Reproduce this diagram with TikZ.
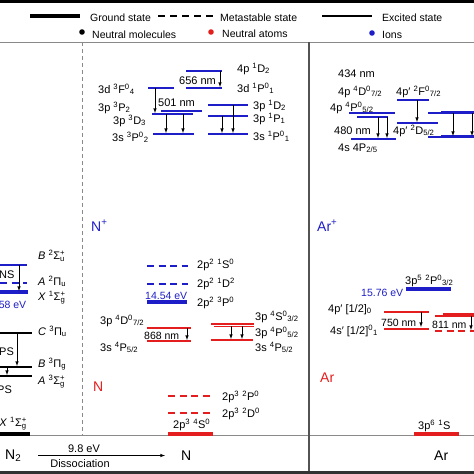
\documentclass[tikz,border=0pt]{standalone}
\usepackage{fontspec}
\setmainfont{Liberation Sans}
\usepackage{amsmath}
\usepackage{tikz}
\usetikzlibrary{arrows}
\definecolor{IonBlue}{HTML}{1E1EC8}
\definecolor{AtomRed}{HTML}{E41E1E}
\definecolor{GrisCadre}{HTML}{8A8A8A}
\newcommand{\spx}[1]{\textsuperscript{#1}}
\newcommand{\sbx}[1]{\textsubscript{#1}}
\newcommand{\trm}[2]{$^{\text{#1}}_{\text{#2}}$}
\tikzset{
	ground/.style={line width=3.6pt},
	excited/.style={line width=1.8pt},
	meta/.style={line width=1.8pt, dash pattern=on 7pt off 4.5pt},
	trans/.style={->, >=latex, line width=0.6pt},
	lbl/.style={anchor=west, inner sep=0pt, text height=8pt, text depth=0pt},
	nm/.style={lbl, font=\fontsize{10.5}{12}\selectfont},
	species/.style={lbl, font=\fontsize{14}{16}\selectfont},
	cadre/.style={GrisCadre, line width=0.9pt}
}

\begin{document}
\begin{tikzpicture}[x=1pt, y=-1pt, font=\fontsize{11}{13}\selectfont]
	\useasboundingbox (0,0) rectangle (474,474);
	\clip (0,0) rectangle (474,474);
	%
	% cadre
	\draw[line width=3.5pt] (0,1.5) -- (474,1.5);
	\draw[cadre] (0,42) -- (474,42);
	\draw[cadre] (0,435) -- (474,435);
	\draw[cadre, dash pattern=on 4pt off 3pt] (82,42) -- (82,435);
	\draw[GrisCadre!60!black, line width=1.3pt] (309,42) -- (309,474);
	\draw[black!80, line width=3pt] (0,472.5) -- (474,472.5);
	%
	% legende
	\begin{scope}[font=\fontsize{10.5}{12}\selectfont]
		\draw[ground] (30,16) -- (80,16);
		\node[lbl] at (90,17) (legGround) {Ground state};
		\draw[line width=1.5pt, dash pattern=on 7pt off 5pt] (158,16) -- (213,16);
		\node[lbl] at (220,17) (legMeta) {Metastable state};
		\draw[line width=1.1pt] (322,16) -- (372,16);
		\node[lbl] at (382,17) (legExc) {Excited state};
		\fill (82,32) circle (2.8pt);
		\node[lbl] at (92,34) (legMol) {Neutral molecules};
		\fill[AtomRed] (211,32) circle (2.8pt);
		\node[lbl] at (222,33) (legAtom) {Neutral atoms};
		\fill[IonBlue] (372,33) circle (2.8pt);
		\node[lbl] at (382,34) (legIon) {Ions};
	\end{scope}
	%
	% N2+
	\draw[excited, IonBlue] (0,265) -- (27,265);
	\draw[meta, IonBlue] (0,283) -- (27,283);
	\draw[ground, IonBlue] (0,292) -- (28,292);
	\draw[trans] (19,265) -- (19,291);
	\node[lbl] at (-1,274) (fns) {NS};
	\node[nm, IonBlue] at (-16,304) (ipNdeux) {15.58 eV};
	\node[lbl] at (38,255) (nBsu) {\textit{B} \spx{2}Σ\trm{+}{u}};
	\node[lbl] at (38,281) (nApu) {\textit{A} \spx{2}Π\sbx{u}};
	\node[lbl] at (38,296) (nXsg) {\textit{X} \spx{1}Σ\trm{+}{g}};
	% N2
	\draw[excited] (0,333) -- (32,333);
	\draw[excited] (0,367) -- (32,367);
	\draw[excited] (0,376) -- (32,376);
	\draw[trans] (17,333) -- (17,366);
	\draw[trans] (7,367) -- (7,375);
	\node[lbl] at (-1,351) (sps) {PS};
	\node[lbl] at (-3,389) (fps) {PS};
	\node[lbl] at (38,331) (nCpu) {\textit{C} \spx{3}Π\sbx{u}};
	\node[lbl] at (38,363) (nBpg) {\textit{B} \spx{3}Π\sbx{g}};
	\node[lbl] at (38,380) (nAsg) {\textit{A} \spx{3}Σ\trm{+}{g}};
	\draw[ground] (0,434) -- (30,434);
	\node[lbl, anchor=east] at (27,422) (nXzero) {\textit{X} \spx{1}Σ\trm{+}{g}};
	%
	% N+
	\node[species, IonBlue] at (91,227) (nIon) {N\spx{+}};
	\draw[excited, IonBlue] (186,71) -- (222,71);
	\draw[excited, IonBlue] (186,88) -- (222,88);
	\draw[excited, IonBlue] (148,88) -- (174,88);
	\draw[excited, IonBlue] (161,111) -- (202,111);
	\draw[excited, IonBlue] (152,114) -- (193,114);
	\draw[excited, IonBlue] (153,134) -- (194,134);
	\draw[excited, IonBlue] (208,105) -- (248,105);
	\draw[excited, IonBlue] (208,116) -- (248,116);
	\draw[excited, IonBlue] (208,134) -- (248,134);
	\draw[trans] (220,71) -- (220,87);
	\draw[trans] (155,88) -- (155,113);
	\draw[trans] (166,114) -- (166,133);
	\draw[trans] (183,114) -- (183,133);
	\draw[trans] (222,116) -- (222,133);
	\draw[trans] (233,105) -- (233,133);
	\node[lbl] at (237,68) (nfpD) {4p \spx{1}D\sbx{2}};
	\node[lbl] at (237,88) (ntdP) {3d \spx{1}P\spx{0}\sbx{1}};
	\node[lbl] at (179,80) (lsix) {656 nm};
	\node[lbl] at (98,89) (ntdF) {3d \spx{3}F\spx{0}\sbx{4}};
	\node[lbl] at (158,102) (lcinq) {501 nm};
	\node[lbl] at (98,107) (ntpP) {3p \spx{3}P\sbx{2}};
	\node[lbl] at (113,120) (ntpD) {3p \spx{3}D\sbx{3}};
	\node[lbl] at (112,137) (ntsP) {3s \spx{3}P\spx{0}\sbx{2}};
	\node[lbl] at (253,105) (nupD) {3p \spx{1}D\sbx{2}};
	\node[lbl] at (253,118) (nupP) {3p \spx{1}P\sbx{1}};
	\node[lbl] at (253,136) (nusP) {3s \spx{1}P\spx{0}\sbx{1}};
	% N+ bas
	\draw[meta, IonBlue] (147,266) -- (188,266);
	\draw[meta, IonBlue] (147,284) -- (188,284);
	\draw[ground, IonBlue] (147,302) -- (187,302);
	\node[lbl] at (197,264) (nionS) {2p\spx{2} \spx{1}S\spx{0}};
	\node[lbl] at (197,283) (nionD) {2p\spx{2} \spx{1}D\spx{2}};
	\node[lbl] at (197,302) (nionP) {2p\spx{2} \spx{3}P\spx{0}};
	\node[nm, IonBlue] at (145,295) (ipN) {14.54 eV};
	%
	% N
	\node[species, AtomRed] at (93,387) (nAtom) {N};
	\draw[excited, AtomRed] (147,328) -- (191,328);
	\draw[excited, AtomRed] (147,341) -- (191,341);
	\draw[trans] (187,328) -- (187,340);
	\node[nm] at (144,335) (lhuit) {868 nm};
	\node[lbl] at (100,320) (ntpDs) {3p \spx{4}D\spx{0}\sbx{7/2}};
	\node[lbl] at (100,347) (ntsPc) {3s \spx{4}P\sbx{5/2}};
	\draw[excited, AtomRed] (211,324) -- (254,324);
	\draw[excited, AtomRed] (214,326.5) -- (254,326.5);
	\draw[excited, AtomRed] (211,340) -- (253,340);
	\draw[trans] (231,326) -- (231,339);
	\draw[trans] (242,326) -- (242,339);
	\node[lbl] at (255,316) (ntpS) {3p \spx{4}S\spx{0}\sbx{3/2}};
	\node[lbl] at (255,332) (ntpPc) {3p \spx{4}P\spx{0}\sbx{5/2}};
	\node[lbl] at (255,347) (ntsPd) {3s \spx{4}P\sbx{5/2}};
	\draw[meta, AtomRed] (168,396) -- (210,396);
	\draw[meta, AtomRed] (168,413) -- (210,413);
	\draw[ground, AtomRed] (168,434) -- (213,434);
	\node[lbl] at (222,396) (nmetP) {2p\spx{3} \spx{2}P\spx{0}};
	\node[lbl] at (222,413) (nmetD) {2p\spx{3} \spx{2}D\spx{0}};
	\node[lbl] at (173,424) (nfond) {2p\spx{3} \spx{4}S\spx{0}};
	%
	% Ar+
	\node[species, IonBlue] at (317,227) (arIon) {Ar\spx{+}};
	\node[lbl] at (338,73) (lquatre) {434 nm};
	\node[lbl] at (338,91) (afpD) {4p \spx{4}D\spx{0}\sbx{7/2}};
	\node[lbl] at (396,91) (afpF) {4p′ \spx{2}F\spx{0}\sbx{7/2}};
	\draw[excited, IonBlue] (397,100) -- (429,100);
	\node[lbl] at (330,107) (afpP) {4p \spx{4}P\spx{0}\sbx{5/2}};
	\draw[excited, IonBlue] (349,113) -- (395,113);
	\draw[excited, IonBlue] (357,117) -- (388,117);
	\draw[trans] (378,117) -- (378,138);
	\draw[trans] (387,117) -- (387,138);
	\node[lbl] at (334,130) (lqhuit) {480 nm};
	\node[lbl] at (393,130) (afpDc) {4p′ \spx{2}D\sbx{5/2}};
	\draw[excited, IonBlue] (397,123) -- (438,123);
	\draw[trans] (417,100) -- (417,122);
	\draw[excited, IonBlue] (351,139) -- (396,139);
	\node[lbl] at (338,147) (afsP) {4s 4P\sbx{2/5}};
	\draw[excited, IonBlue] (428,113) -- (474,113);
	\draw[excited, IonBlue] (441,111.5) -- (474,111.5);
	\draw[excited, IonBlue] (428,137) -- (474,137);
	\draw[excited, IonBlue] (441,135.5) -- (474,135.5);
	\draw[trans] (453,113) -- (453,136);
	\draw[trans] (472,113) -- (472,136);
	% Ar+ bas
	\node[lbl] at (405,280) (arionP) {3p\spx{5} \spx{2}P\spx{0}\sbx{3/2}};
	\draw[ground, IonBlue] (406,289) -- (451,289);
	\node[nm, IonBlue] at (361,292) (ipAr) {15.76 eV};
	%
	% Ar
	\node[species, AtomRed] at (320,378) (arAtom) {Ar};
	\draw[excited, AtomRed] (384,312) -- (429,312);
	\draw[excited, AtomRed] (384,329) -- (429,329);
	\draw[trans] (421,312) -- (421,327);
	\node[lbl] at (328,308) (afpz) {4p′ [1/2]\sbx{0}};
	\node[lbl] at (330,330) (afsu) {4s′ [1/2]\spx{0}\sbx{1}};
	\node[nm] at (381,322) (lsept) {750 nm};
	\draw[excited, AtomRed] (435,316) -- (474,316);
	\draw[AtomRed, line width=2.5pt] (443,314) -- (474,314);
	\draw[meta, AtomRed] (435,331) -- (474,331);
	\draw[trans] (471,316) -- (471,330);
	\node[nm] at (432,324) (lhuitc) {811 nm};
	\draw[ground, AtomRed] (414,434) -- (459,434);
	\node[lbl] at (418,425) (arfond) {3p\spx{6} \spx{1}S};
	%
	% bas
	\node[species] at (5,455) (nDeux) {N\sbx{2}};
	\node[species] at (181,456) (nBas) {N};
	\node[species] at (434,456) (arBas) {Ar};
	\coordinate (dissA) at (38,455.5);
	\coordinate (dissB) at (165,455.5);
	\draw[trans] (dissA) -- (dissB);
	\node at (84,449) (dissE) {9.8 eV};
	\node at (80,464) (diss) {Dissociation};
\end{tikzpicture}
\end{document}
